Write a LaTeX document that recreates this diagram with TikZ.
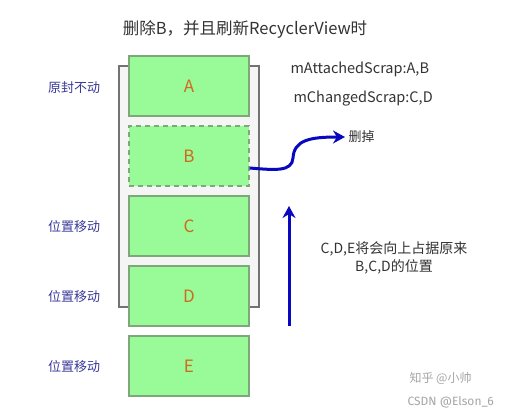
\documentclass[tikz,border=0pt]{standalone}
\usepackage{fontspec}
\setmainfont{Noto Sans CJK SC}
\newfontfamily\latinf{Fira Sans}
\usetikzlibrary{arrows.meta}
\definecolor{boxfill}{HTML}{98FB98}
\definecolor{boxline}{HTML}{7FA87A}
\definecolor{lettercol}{HTML}{D2691E}
\definecolor{leftcol}{HTML}{3A3A9A}
\definecolor{arrowblue}{HTML}{0808C0}
\definecolor{textgray}{HTML}{333333}
\tikzset{
  item/.style={draw=boxline, line width=1.2pt, fill=boxfill, minimum width=120pt, minimum height=60pt, inner sep=0pt, text=lettercol, font=\fontsize{17}{17}\selectfont},
  sidelabel/.style={text=leftcol, font=\fontsize{13}{13}\selectfont},
  infolabel/.style={text=textgray, font=\fontsize{14.5}{14.5}\selectfont},
  blueline/.style={draw=arrowblue, line width=3pt, -{Stealth[length=12pt,width=13pt]}},
  wm/.style={text=black!35, font=\fontsize{12}{12}\selectfont}
}
\begin{document}
\begin{tikzpicture}[x=1pt,y=-1pt]
\useasboundingbox[fill=white] (0,0) rectangle (516,417);
% title
\node[text=textgray, font=\fontsize{16.5}{16.5}\selectfont] (title) at (245,29) {删除B，并且刷新RecyclerView时};
% frame
\node[draw=black!55, fill=black!4, line width=1.2pt, minimum width=140pt, minimum height=241pt, inner sep=0pt] (frame) at (189,186.5) {};
% items
\node[item] (A) at (189,86) {A};
\node[item, dashed, dash pattern=on 5pt off 4pt] (B) at (189,156) {B};
\node[item] (C) at (189,226) {C};
\node[item] (D) at (189,296) {D};
\node[item] (E) at (189,366) {E};
% left labels
\node[sidelabel] (lA) at (74,88) {原封不动};
\node[sidelabel] (lC) at (74,227) {位置移动};
\node[sidelabel] (lD) at (74,297) {位置移动};
\node[sidelabel] (lE) at (74,367) {位置移动};
% info
\node[infolabel, anchor=west] (att) at (287,69) {mAttachedScrap:A,B};
\node[infolabel, anchor=west] (chg) at (290,99) {mChangedScrap:C,D};
\node[infolabel, anchor=west, font=\fontsize{13}{13}\selectfont] (del) at (345,137) {删掉};
% wavy arrow
\draw[blueline] (B.east |- 0,168) .. controls (275,170) and (292,172) .. (293,158)
  .. controls (294,140) and (310,137) .. (del.west);
% up arrow
\coordinate (upS) at (289,326);
\coordinate (upE) at (289,206);
\draw[blueline] (upS) -- (upE);
\node[infolabel, align=center, font=\fontsize{14}{18}\selectfont] (move) at (394,258) {C,D,E将会向上占据原来\\B,C,D的位置};
% watermarks
\node[wm, anchor=west] (zh) at (406,378) {知乎 @小帅};
\node[wm, anchor=west, font=\latinf\fontsize{12}{12}\selectfont] (csdn) at (404,402) {CSDN @Elson\_6};
\end{tikzpicture}
\end{document}
